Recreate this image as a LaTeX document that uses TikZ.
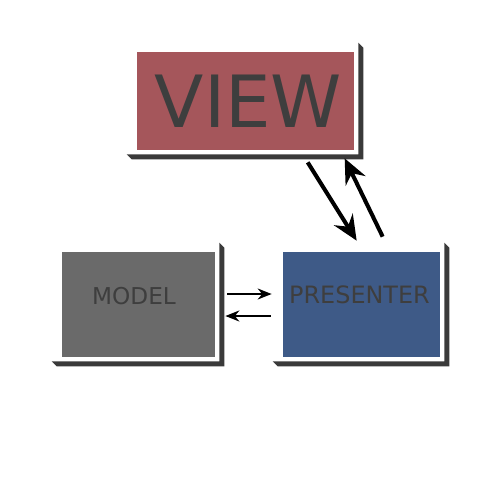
\documentclass[tikz,border=0pt]{standalone}
\usepackage{fontspec}
\setmainfont{DejaVu Sans}
\usetikzlibrary{calc,arrows.meta}
\definecolor{viewred}{HTML}{A5565B}
\definecolor{modelgray}{HTML}{6A6A6A}
\definecolor{presblue}{HTML}{3E5A87}
\definecolor{txtgray}{HTML}{3E3E3E}
\definecolor{shadowgray}{HTML}{3A3A3A}
\tikzset{
	panel/.style 2 args={rectangle,fill=#1,text=txtgray,inner sep=0pt,text depth=#2},
	bigarrow/.style={line width=2.3pt,-{Stealth[length=0.5cm,width=0.44cm,inset=0.17cm]}},
	smallarrow/.style={line width=1.1pt,-{Stealth[length=0.28cm,width=0.22cm,inset=0.09cm]}}
}
% drop shadow along the right and bottom edge of a panel
\newcommand{\panelshadow}[1]{
	\fill[shadowgray] ($(#1.north east)+(4,-9)$) -- ($(#1.north east)+(9,-4)$)
		-- ($(#1.south east)+(9,9)$) -- ($(#1.south west)+(-5,9)$)
		-- ($(#1.south west)+(-10,4)$) -- ($(#1.south east)+(4,4)$) -- cycle;
}
\begin{document}
\begin{tikzpicture}[x=0.02cm,y=-0.02cm]
	\useasboundingbox (0,0) rectangle (500,500);

	\node [panel={viewred}{0pt},minimum width=4.34cm,minimum height=1.96cm,font=\fontsize{41}{48}\selectfont] (view) at (245.5,101) {\kern0.12cm VIEW};
	\node [panel={modelgray}{0.36cm},minimum width=3.06cm,minimum height=2.1cm,font=\fontsize{13.2}{16}\selectfont] (model) at (138.5,304.5) {MODEL\kern0.18cm};
	\node [panel={presblue}{0.38cm},minimum width=3.14cm,minimum height=2.1cm,font=\fontsize{13.6}{16}\selectfont] (presenter) at (361.5,304.5) {PRESENTER\kern0.08cm};

	\panelshadow{view}
	\panelshadow{model}
	\panelshadow{presenter}

	\draw [bigarrow] ($(view.south west)+(171,12)$) -- ($(presenter.north west)+(74,-11)$);
	\draw [bigarrow] ($(presenter.north west)+(100,-15)$) -- ($(view.south west)+(208,8)$);
	\draw [smallarrow] ($(model.east)+(12,-10.5)$) -- ($(presenter.west)+(-11,-10.5)$);
	\draw [smallarrow] ($(presenter.west)+(-12,11.5)$) -- ($(model.east)+(10,11.5)$);
\end{tikzpicture}
\end{document}
